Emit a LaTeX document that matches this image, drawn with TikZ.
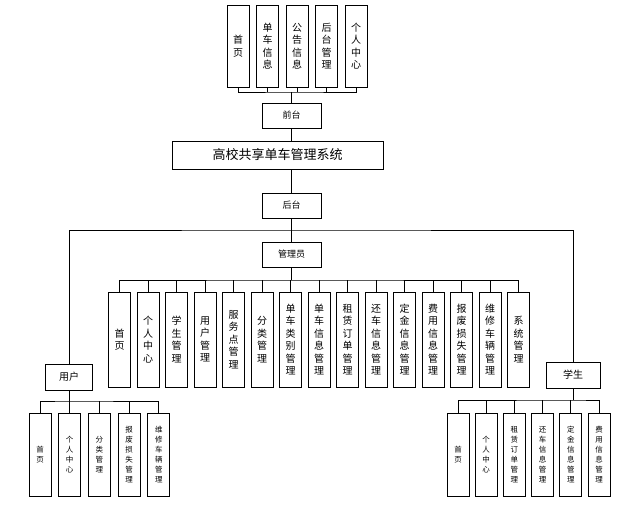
\documentclass[tikz,border=0pt]{standalone}
\usepackage{fontspec}
\setmainfont{Noto Sans CJK SC}
\begin{document}
\begin{tikzpicture}[x=1pt,y=-1pt,line width=0.8pt,
 box/.style={draw,fill=white,inner sep=0pt,align=center},
 vb/.style={box,minimum width=22pt,minimum height=#1,font=\fontsize{10}{12.5}\selectfont},
 sb/.style={box,minimum width=22pt,minimum height=83pt,font=\fontsize{7.5}{10}\selectfont},
 hb/.style={box,minimum width=59pt,minimum height=25pt,font=\fontsize{9}{10}\selectfont}]
\useasboundingbox (0,0) rectangle (634,512);
% top
\foreach \t [count=\i] in {首\\页,单\\车\\信\\息,公\\告\\信\\息,后\\台\\管\\理,个\\人\\中\\心}{
 \node[vb=82pt] (t\i) at ({238+29.5*(\i-1)},46) {\t};}
\node[hb] (qt) at (291.5,115.5) {前台};
\coordinate (tb) at (291.5,92);
\draw (t1.south) |- (tb) -| (t5.south); \foreach \i in {2,3,4}{\draw (t\i.south) -- (t\i.south|-tb);}
\draw (tb) -- (qt.north);
\node[box,minimum width=211pt,minimum height=28pt,font=\fontsize{13}{14}\selectfont] (sys) at (277.5,155) {高校共享单车管理系统};
\node[hb] (ht) at (291.5,205.5) {后台};
\draw (qt.south) -- (qt.south|-sys.north); \draw (sys.south-|ht) -- (ht);
\node[hb] (adm) at (291.5,254.5) {管理员};
\node[box,minimum width=47pt,minimum height=26pt,font=\fontsize{10}{12}\selectfont] (usr) at (69,377) {用户};
\node[box,minimum width=54pt,minimum height=26pt,font=\fontsize{10}{12}\selectfont] (stu) at (573,375) {学生};
\coordinate (hbus) at (291.5,230);
\draw (ht) -- (adm);
\draw (usr.north) |- (hbus) -| (stu.north);
% admin
\foreach \t [count=\i] in {首\\页,个\\人\\中\\心,学\\生\\管\\理,用\\户\\管\\理,服\\务\\点\\管\\理,分\\类\\管\\理,单\\车\\类\\别\\管\\理,单\\车\\信\\息\\管\\理,租\\赁\\订\\单\\管\\理,还\\车\\信\\息\\管\\理,定\\金\\信\\息\\管\\理,费\\用\\信\\息\\管\\理,报\\废\\损\\失\\管\\理,维\\修\\车\\辆\\管\\理,系\\统\\管\\理}{
 \node[vb=95pt] (a\i) at ({119.5+28.5*(\i-1)},339.5) {\t};}
\coordinate (abus) at (291.5,280);
\draw (a1.north) |- (abus) -| (a15.north); \draw (adm) -- (abus);
\foreach \i in {2,...,14}{\draw (a\i.north) -- (a\i.north|-abus);}
% user children
\foreach \t [count=\i] in {首\\页,个\\人\\中\\心,分\\类\\管\\理,报\\废\\损\\失\\管\\理,维\\修\\车\\辆\\管\\理}{
 \node[sb] (u\i) at ({40+29.7*(\i-1)},454.5) {\t};}
\coordinate (ubus) at (69,401);
\draw (u1.north) |- (ubus) -| (u5.north); \draw (usr) -- (ubus);
\foreach \i in {2,3,4}{\draw (u\i.north) -- (u\i.north|-ubus);}
% student children
\foreach \t [count=\i] in {首\\页,个\\人\\中\\心,租\\赁\\订\\单\\管\\理,还\\车\\信\\息\\管\\理,定\\金\\信\\息\\管\\理,费\\用\\信\\息\\管\\理}{
 \node[sb] (s\i) at ({458+28.2*(\i-1)},454.5) {\t};}
\coordinate (sbus) at (573,400);
\draw (s1.north) |- (sbus) -| (s6.north); \draw (stu) -- (sbus);
\foreach \i in {2,...,5}{\draw (s\i.north) -- (s\i.north|-sbus);}
\end{tikzpicture}
\end{document}
